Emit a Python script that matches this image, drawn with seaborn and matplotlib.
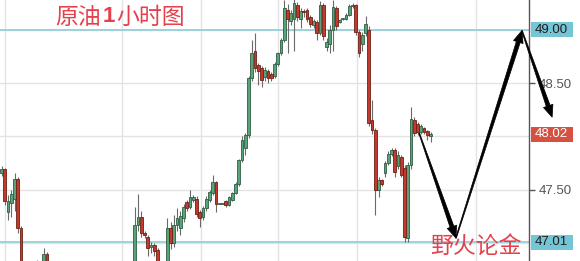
import numpy as np
import pandas as pd
import matplotlib
matplotlib.use("Agg")
import matplotlib.pyplot as plt
import seaborn as sns
from matplotlib.patches import Polygon, Rectangle
from matplotlib.transforms import IdentityTransform, blended_transform_factory

# ---------------- data (hourly crude oil candles) ----------------
open_ = [47.66, 47.70, 47.29, 47.38, 47.42, 47.60, 47.14, 46.70, 46.58, 46.64,
         46.60, 46.72, 46.76, 46.74, 46.90, 46.70, 46.62, 46.58, 46.50, 46.56,
         46.52, 46.45, 46.48, 46.42, 46.46, 46.40, 46.44, 46.50, 46.47, 46.53,
         46.49, 46.55, 46.52, 46.58, 46.54, 46.60, 46.57, 46.63, 46.59, 46.64,
         46.61, 46.70, 47.17, 47.25, 47.10, 47.06, 46.97, 46.99, 46.94, 46.82,
         46.72, 46.76, 47.14, 47.00, 47.17, 47.14, 47.24, 47.39, 47.34, 47.41,
         47.42, 47.29, 47.25, 47.33, 47.41, 47.47, 47.57, 47.37, 47.37, 47.40,
         47.36, 47.41, 47.47, 47.56, 47.78, 47.89, 48.01, 48.55, 48.80, 48.67,
         48.64, 48.56, 48.61, 48.58, 48.57, 48.68, 48.78, 48.90, 49.18, 49.08,
         49.10, 49.23, 49.10, 49.17, 49.18, 49.12, 49.04, 49.07, 48.97, 49.23,
         48.84, 48.86, 49.00, 49.20, 49.07, 49.10, 49.10, 49.14, 49.22, 49.23,
         48.98, 48.86, 48.97, 49.00, 48.15, 48.06, 47.50, 47.59, 47.66, 47.75,
         47.84, 47.87, 47.72, 47.81, 47.71, 47.05, 47.73, 48.15, 48.12, 48.04,
         48.08, 48.05, 48.00]
high = [47.72, 47.71, 47.45, 47.50, 47.66, 47.62, 47.16, 46.74, 46.70, 46.70,
        46.78, 46.85, 46.80, 46.96, 46.92, 46.74, 46.66, 46.62, 46.60, 46.60,
        46.55, 46.52, 46.50, 46.50, 46.48, 46.47, 46.54, 46.53, 46.57, 46.56,
        46.60, 46.58, 46.62, 46.61, 46.65, 46.63, 46.68, 46.66, 46.69, 46.67,
        46.76, 47.34, 47.46, 47.30, 47.12, 47.08, 47.01, 47.00, 46.96, 46.84,
        46.80, 47.24, 47.20, 47.27, 47.33, 47.30, 47.37, 47.41, 47.50, 47.45,
        47.44, 47.31, 47.35, 47.44, 47.50, 47.64, 47.58, 47.37, 47.37, 47.41,
        47.44, 47.48, 47.57, 47.79, 48.00, 48.03, 48.57, 48.90, 48.97, 48.69,
        48.66, 48.65, 48.63, 48.60, 48.70, 48.79, 48.92, 49.28, 49.24, 49.18,
        49.30, 49.26, 49.20, 49.19, 49.20, 49.14, 49.10, 49.09, 49.27, 49.25,
        48.92, 49.04, 49.28, 49.22, 49.10, 49.11, 49.15, 49.24, 49.25, 49.24,
        49.00, 48.98, 49.13, 49.03, 48.34, 48.08, 47.62, 47.60, 47.77, 47.86,
        47.89, 47.89, 47.86, 47.83, 47.73, 47.76, 48.28, 48.18, 48.14, 48.12,
        48.09, 48.06, 48.04]
low = [47.63, 47.36, 47.22, 47.25, 47.30, 47.10, 46.65, 46.52, 46.52, 46.55,
       46.57, 46.68, 46.68, 46.70, 46.66, 46.55, 46.52, 46.45, 46.44, 46.47,
       46.40, 46.40, 46.37, 46.38, 46.35, 46.36, 46.41, 46.43, 46.44, 46.45,
       46.46, 46.48, 46.50, 46.50, 46.51, 46.53, 46.54, 46.55, 46.56, 46.57,
       46.58, 46.68, 47.12, 47.06, 47.05, 46.88, 46.91, 46.88, 46.78, 46.66,
       46.65, 46.74, 46.95, 46.97, 47.12, 47.08, 47.20, 47.30, 47.32, 47.39,
       47.25, 47.15, 47.22, 47.30, 47.39, 47.45, 47.29, 47.37, 47.37, 47.34,
       47.35, 47.40, 47.46, 47.54, 47.76, 47.83, 47.99, 48.52, 48.60, 48.48,
       48.46, 48.52, 48.50, 48.52, 48.55, 48.66, 48.76, 48.88, 48.78, 49.04,
       48.80, 49.08, 49.01, 49.12, 49.07, 49.02, 49.01, 48.90, 48.95, 48.90,
       48.80, 48.78, 48.80, 49.00, 49.06, 49.09, 49.09, 49.13, 49.20, 48.95,
       48.74, 48.80, 48.94, 48.10, 48.02, 47.27, 47.43, 47.54, 47.62, 47.73,
       47.82, 47.62, 47.70, 47.62, 47.01, 47.01, 47.70, 48.00, 48.01, 48.02,
       48.02, 47.97, 47.95]
close = [47.70, 47.40, 47.40, 47.46, 47.60, 47.14, 46.70, 46.58, 46.64, 46.60,
         46.72, 46.76, 46.74, 46.90, 46.72, 46.62, 46.58, 46.50, 46.56, 46.52,
         46.45, 46.48, 46.42, 46.46, 46.40, 46.44, 46.50, 46.47, 46.53, 46.49,
         46.55, 46.52, 46.58, 46.54, 46.60, 46.57, 46.63, 46.59, 46.64, 46.61,
         46.70, 47.17, 47.25, 47.10, 47.08, 46.96, 46.99, 46.93, 46.82, 46.72,
         46.76, 47.14, 47.00, 47.17, 47.24, 47.26, 47.34, 47.33, 47.43, 47.43,
         47.28, 47.24, 47.33, 47.42, 47.48, 47.57, 47.37, 47.37, 47.37, 47.36,
         47.43, 47.47, 47.56, 47.78, 47.97, 48.01, 48.55, 48.78, 48.64, 48.61,
         48.53, 48.62, 48.55, 48.55, 48.68, 48.78, 48.90, 49.20, 49.10, 49.15,
         49.25, 49.12, 49.17, 49.16, 49.10, 49.05, 49.08, 48.97, 49.23, 48.94,
         48.88, 49.00, 49.21, 49.03, 49.09, 49.10, 49.14, 49.22, 49.23, 48.98,
         48.78, 48.95, 49.05, 48.13, 48.06, 47.50, 47.59, 47.56, 47.75, 47.84,
         47.87, 47.67, 47.83, 47.64, 47.06, 47.73, 48.16, 48.03, 48.04, 48.10,
         48.04, 48.01, 48.02]

# projected path drawn as arrows (hour index, price)
proj_x = [128.5, 139.8, 160.1, 169.4]
proj_price = [48.03, 47.05, 48.99, 48.18]

# reference levels and axis labels
support_level = 47.01
resist_level = 49.00
last_price = 48.02
tick_levels = [47.50, 48.50]
grid_prices = [47.0, 47.5, 48.0, 48.5, 49.0]
day_lines = [1.05, 37.05, 61.35, 85.05, 109.4, 145.97]
title_parts = ["原油", "1", "小时图"]
brand_text = "野火论金"

# ---------------- figure ----------------
sns.set_theme(style="white")
plt.rcParams['font.family'] = ['Noto Sans CJK SC', 'DejaVu Sans']

W, H = 580, 261
fig = plt.figure(figsize=(W / 100, H / 100), dpi=100)
ax = fig.add_axes([0, 0, 529 / W, 1])

df = pd.DataFrame({"o": open_, "h": high, "l": low, "c": close})
df["x"] = np.arange(len(df))

ax.set_xlim(-0.49, 162.28)
ax.set_ylim(46.836, 49.276)

# grid
for g in grid_prices:
    ax.axhline(g, color="#e3e3e3", lw=1, zorder=0)
for d in day_lines:
    ax.axvline(d, color="#e3e3e3", lw=1, zorder=0)
ax.axhline(resist_level, color="#8fcdd8", lw=1.2, zorder=1)
ax.axhline(support_level, color="#8fcdd8", lw=1.2, zorder=1)

# candles
up = df["c"] >= df["o"]
ax.vlines(df["x"], df["l"], df["h"], color="#6a6a6a", lw=0.8, zorder=2)
bottoms = df[["o", "c"]].min(axis=1)
heights = (df["c"] - df["o"]).abs().clip(lower=0.004)
ax.bar(df["x"][up], heights[up], bottom=bottoms[up], width=0.85,
       color="#5aa27a", edgecolor="#2f5e42", linewidth=0.6, zorder=3)
ax.bar(df["x"][~up], heights[~up], bottom=bottoms[~up], width=0.85,
       color="#c23a2c", edgecolor="#6e1f16", linewidth=0.6, zorder=3)

# axes styling
sns.despine(ax=ax, left=True, top=True, bottom=True, right=False)
ax.spines["right"].set_color("#555555")
ax.spines["right"].set_linewidth(1)
ax.set_xticks([])
ax.yaxis.tick_right()
ax.set_yticks(tick_levels)
ax.set_yticklabels([f"{v:.2f}" for v in tick_levels])
ax.tick_params(axis="y", length=4, width=1, color="#555555", pad=3,
               labelsize=9.5, labelcolor="#555555")
for lab in ax.get_yticklabels():
    lab.set_family("Liberation Sans")

# boxed price labels on the right
btrans = blended_transform_factory(fig.transFigure, ax.transData)
half = 7.5 / 107
for lvl, face, tc in [(resist_level, "#74c6d6", "#1e1e1e"),
                      (last_price, "#d65140", "white"),
                      (support_level, "#74c6d6", "#1e1e1e")]:
    fig.add_artist(Rectangle((531 / W, lvl - half), 42 / W, 2 * half,
                             transform=btrans, facecolor=face,
                             edgecolor="none", zorder=5))
    fig.text(535 / W, lvl, f"{lvl:.2f}", transform=btrans, va="center",
             ha="left", fontsize=9.5, color=tc, family="Liberation Sans",
             zorder=6)

# projection arrows (tapered, drawn in display space)
pts = ax.transData.transform(np.column_stack([proj_x, proj_price]))


def tapered_arrow(p0, p1, w0=0.8, w1=4.0, hl=12, hw=10):
    p0 = np.asarray(p0, float)
    p1 = np.asarray(p1, float)
    u = (p1 - p0) / np.linalg.norm(p1 - p0)
    n = np.array([-u[1], u[0]])
    b = p1 - u * hl
    poly = [p0 + n * w0 / 2, b + n * w1 / 2, b + n * hw / 2, p1,
            b - n * hw / 2, b - n * w1 / 2, p0 - n * w0 / 2]
    fig.add_artist(Polygon(poly, closed=True, transform=IdentityTransform(),
                           facecolor="black", edgecolor="black", lw=0.5,
                           zorder=7))


for k in range(len(pts) - 1):
    tapered_arrow(pts[k], pts[k + 1])

# texts
red_text = "#e5414d"
t1 = fig.text(55 / W, 1 - 17 / H, title_parts[0], fontsize=16.5,
              color=red_text, va="center", ha="left", fontweight="light")
fig.canvas.draw()
r = fig.canvas.get_renderer()
x_next = t1.get_window_extent(r).x1
t2 = fig.text(x_next / W + 1.5 / W, 1 - 17 / H, title_parts[1], fontsize=16,
              color=red_text, va="center", ha="left", fontweight="bold",
              family="Liberation Sans")
x_next = t2.get_window_extent(r).x1
fig.text(x_next / W + 1.5 / W, 1 - 17 / H, title_parts[2], fontsize=16.5,
         color=red_text, va="center", ha="left", fontweight="light")
fig.text(430 / W, 1 - 246 / H, brand_text, fontsize=16.5, color=red_text,
         va="center", ha="left", zorder=8, fontweight="light")

fig.savefig("out.png", dpi=100)
